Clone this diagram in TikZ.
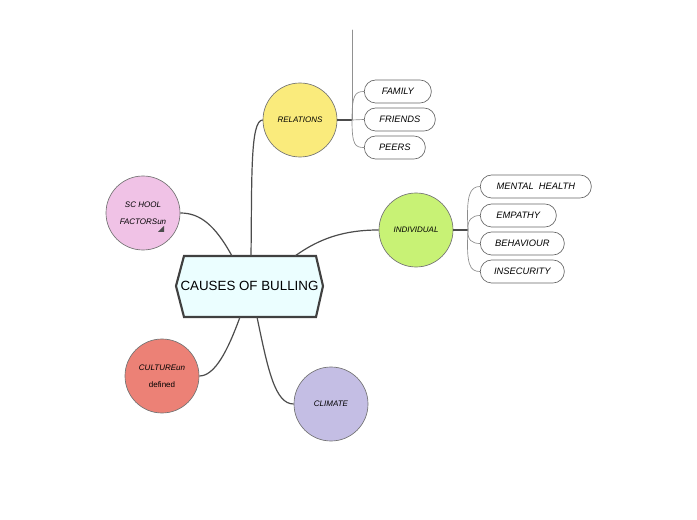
\documentclass[tikz,border=0pt]{standalone}
\usepackage{fontspec}
\setmainfont{Liberation Sans}
\begin{document}
\begin{tikzpicture}[x=0.75pt,y=-0.75pt,
 bub/.style={circle,draw=black!55,line width=0.5pt,minimum size=55.5pt,inner sep=0pt,font=\itshape\fontsize{6}{7}\selectfont,align=center},
 pill/.style={rounded corners=8.5pt,draw=black!60,line width=0.5pt,minimum height=17.25pt,inner sep=0pt,anchor=west,font=\itshape\fontsize{7}{8}\selectfont},
 con/.style={draw=black!70,line width=0.9pt},
 thin/.style={draw=black!45,line width=0.5pt}]
\useasboundingbox (0,0) rectangle (697,520);
\draw[draw=black!75,fill=cyan!10!blue!5!white,fill=blue!3!cyan!8!white,line width=1.6pt] (184,256)--(316,256)--(323,286)--(316,317)--(184,317)--(176,286)--cycle;
\node (c) at (249.5,286) {\fontsize{10}{12}\selectfont CAUSES OF BULLING};
\coordinate (ct) at (251,256);\coordinate (cs) at (232,256);\coordinate (ci) at (295,256);
\coordinate (cc) at (240,317);\coordinate (cl) at (257,317);
\node[bub,fill={rgb,255:red,250;green,235;blue,124}] (rel) at (300,120) {RELATIONS};
\node[bub,fill={rgb,255:red,240;green,194;blue,230}] (sch) at (143,213) {SC HOOL\\[6pt]FACTORSun};
\fill[black!70] (164,226)--(164,232)--(158,232)--cycle;
\node[bub,fill={rgb,255:red,200;green,242;blue,117}] (ind) at (416,230) {INDIVIDUAL};
\node[bub,fill={rgb,255:red,236;green,129;blue,118}] (cul) at (162,376) {CULTUREun\\[6pt]{\upshape defined}};
\node[bub,fill={rgb,255:red,196;green,190;blue,228}] (cli) at (331,404) {CLIMATE};
\draw[con] (ct) .. controls (252,180) and (250,120) .. (rel.west);
\draw[con] (cs) .. controls (215,225) and (200,213) .. (sch.east);
\draw[con] (ci) .. controls (320,238) and (345,230) .. (ind.west);
\draw[con] (cc) .. controls (228,350) and (215,376) .. (cul.east);
\draw[con] (cl) .. controls (268,370) and (275,404) .. (cli.west);
\node[pill,minimum width=50.25pt] (fa) at (364,91.5) {FAMILY};
\node[pill,minimum width=53.25pt] (fr) at (364,119.5) {FRIENDS};
\node[pill,minimum width=45.75pt] (pe) at (364,147.5) {PEERS};
\node[pill,minimum width=83.25pt] (mh) at (480,186.5) {MENTAL\ \ HEALTH};
\node[pill,minimum width=57pt] (em) at (480,215.5) {EMPATHY};
\node[pill,minimum width=63pt] (be) at (480,243.5) {BEHAVIOUR};
\node[pill,minimum width=63pt] (in) at (480,271.5) {INSECURITY};
\coordinate (rj) at (352,120);\coordinate (ij) at (468,230);
\draw[con] (rel.east)--(rj);\draw[con] (ind.east)--(ij);
\foreach \p in {fa,fr,pe}{\draw[thin] (rj) .. controls (352,{0}) and (352,0) .. (rj);}
\draw[thin] (rj) .. controls (352,95) and (355,91.5) .. (fa.west);
\draw[thin] (rj) -- (fr.west);
\draw[thin] (rj) .. controls (352,145) and (355,147.5) .. (pe.west);
\draw[thin] (ij) .. controls (466,195) and (470,186.5) .. (mh.west);
\draw[thin] (ij) .. controls (467,220) and (472,215.5) .. (em.west);
\draw[thin] (ij) .. controls (467,240) and (472,243.5) .. (be.west);
\draw[thin] (ij) .. controls (466,265) and (470,271.5) .. (in.west);
\end{tikzpicture}
\end{document}
